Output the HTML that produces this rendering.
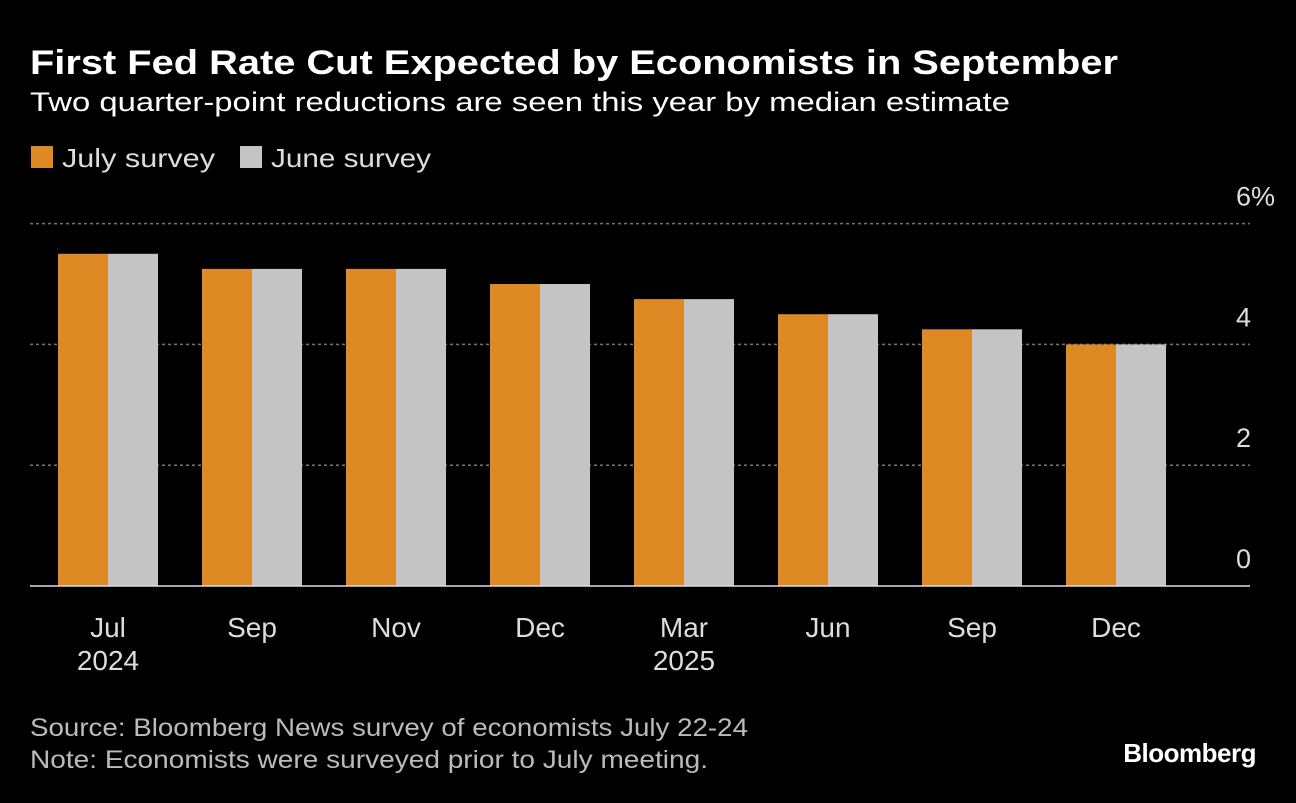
<!DOCTYPE html>
<html><head><meta charset="utf-8"><style>
body{margin:0;background:#000;width:1296px;height:798px;overflow:hidden;font-family:"Liberation Sans",sans-serif;color:#fff}
</style></head><body>
<svg width="1296" height="798" xmlns="http://www.w3.org/2000/svg">
<text x="30" y="74" font-size="34" font-weight="bold" fill="#fff" textLength="1088" lengthAdjust="spacingAndGlyphs">First Fed Rate Cut Expected by Economists in September</text>
<text x="30" y="111" font-size="27" fill="#fff" textLength="980" lengthAdjust="spacingAndGlyphs">Two quarter-point reductions are seen this year by median estimate</text>
<g>
<rect x="31" y="146" width="22" height="22" fill="#dd8a24"/>
<text x="62" y="167" font-size="26" fill="#ddd" textLength="153" lengthAdjust="spacingAndGlyphs">July survey</text>
<rect x="240" y="146" width="22" height="22" fill="#c4c4c4"/>
<text x="271" y="167" font-size="26" fill="#ddd" textLength="160" lengthAdjust="spacingAndGlyphs">June survey</text>
</g>
<g id="plot"></g>
<text x="30" y="736" font-size="25" fill="#bbb" textLength="718" lengthAdjust="spacingAndGlyphs">Source: Bloomberg News survey of economists July 22-24</text>
<text x="30" y="768" font-size="25" fill="#bbb" textLength="678" lengthAdjust="spacingAndGlyphs">Note: Economists were surveyed prior to July meeting.</text>
<text x="1256" y="762" font-size="26" font-weight="bold" fill="#fff" text-anchor="end" letter-spacing="-0.5">Bloomberg</text>
</svg>
<script>
const categories=["Jul","Sep","Nov","Dec","Mar","Jun","Sep","Dec"];
const yearLabels=["2024","","","","2025","","",""];
const julySurvey=[5.5,5.25,5.25,5.0,4.75,4.5,4.25,4.0];
const juneSurvey=[5.5,5.25,5.25,5.0,4.75,4.5,4.25,4.0];
const yTicks=[0,2,4,6];
const yTickLabels=["0","2","4","6%"];
const NS="http://www.w3.org/2000/svg";
const g=document.getElementById('plot');
const y=v=>586-v*60.4;
const xc=i=>108+i*144;
function mk(t,a){const e=document.createElementNS(NS,t);for(const k in a)e.setAttribute(k,a[k]);g.appendChild(e);return e;}
yTicks.forEach((t,i)=>{
 if(t>0){const l=mk('line',{x1:30,x2:1250,y1:y(t),y2:y(t),stroke:'#777','stroke-width':1.5,'stroke-dasharray':'3,3'});
 
 }
 const tx=mk('text',{x:1236,y:y(t)-18,'font-size':27,fill:'#ddd'});tx.textContent=yTickLabels[i];
 
 
});
categories.forEach((c,i)=>{
 const a=mk('rect',{x:xc(i)-50,y:y(julySurvey[i]),width:50,height:586-y(julySurvey[i]),fill:'#dd8a24'});
 
 
 const b=mk('rect',{x:xc(i),y:y(juneSurvey[i]),width:50,height:586-y(juneSurvey[i]),fill:'#c4c4c4'});
 
 
 const t=mk('text',{x:xc(i),y:637,'font-size':28,fill:'#ddd','text-anchor':'middle'});t.textContent=c;
 
 
 if(yearLabels[i]){const yl=mk('text',{x:xc(i),y:670,'font-size':28,fill:'#ddd','text-anchor':'middle'});yl.textContent=yearLabels[i];
 
 }
});
const ax=mk('line',{x1:30,x2:1250,y1:586,y2:586,stroke:'#ddd','stroke-width':1.5});


</script>
</body></html>
